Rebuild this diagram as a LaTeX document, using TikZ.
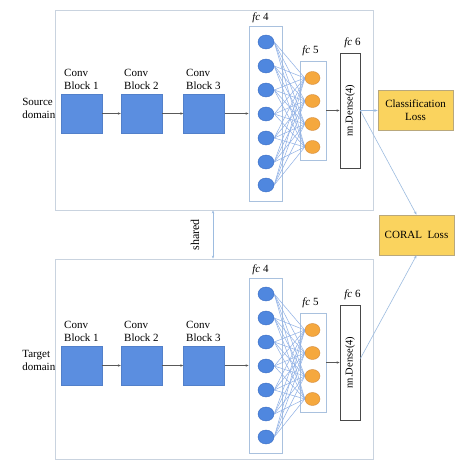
\documentclass[tikz,border=0pt]{standalone}
\usepackage{fontspec}
\setmainfont{Liberation Serif}
\usetikzlibrary{shapes.geometric,arrows.meta}
\definecolor{panelc}{HTML}{C9D3DF}
\definecolor{convc}{HTML}{5B8EE0}
\definecolor{layerc}{HTML}{A9C1DE}
\definecolor{bluen}{HTML}{4F87DF}
\definecolor{bluend}{HTML}{3A6CC2}
\definecolor{orangen}{HTML}{F5A83E}
\definecolor{orangend}{HTML}{D3893A}
\definecolor{connc}{HTML}{8FB0E6}
\definecolor{lossc}{HTML}{FAD35E}
\definecolor{lossd}{HTML}{B9A87C}
\definecolor{ltarrow}{HTML}{9DBCE0}
\begin{document}
\begin{tikzpicture}[x=1pt,y=-1pt,
  panel/.style={draw=panelc,line width=0.9pt,minimum width=318pt,minimum height=200pt,inner sep=0pt},
  conv/.style={fill=convc,draw=convc!90!black,line width=0.3pt,minimum width=41pt,minimum height=39pt,inner sep=0pt},
  layerbox/.style={draw=layerc,line width=0.8pt,inner sep=0pt},
  bneu/.style={ellipse,fill=bluen,draw=bluend,line width=0.4pt,minimum width=16pt,minimum height=14pt,inner sep=0pt},
  oneu/.style={ellipse,fill=orangen,draw=orangend,line width=0.4pt,minimum width=15pt,minimum height=13pt,inner sep=0pt},
  fcbox/.style={draw=black!72,line width=0.8pt,minimum width=20pt,minimum height=115pt,inner sep=0pt},
  conn/.style={draw=connc,line width=0.5pt},
  darr/.style={draw=black!65,line width=0.5pt,-{Stealth[length=3pt,width=2.4pt]}},
  larr/.style={draw=ltarrow,line width=0.6pt,-{Stealth[length=3.5pt,width=2.8pt]}},
  lossbox/.style={fill=lossc,draw=lossd,line width=0.6pt,minimum width=75pt,minimum height=40pt,align=center,inner sep=0pt,font=\fontsize{11}{13}\selectfont},
  txt/.style={font=\fontsize{11}{13}\selectfont,inner sep=0pt},
  fclab/.style={font=\fontsize{11}{13}\selectfont,inner sep=0pt}
]
\useasboundingbox[fill=white] (0,0) rectangle (474,474);

% panels
\node[panel] (sp) at (214,110) {};
\node[panel] (tp) at (214,359) {};

% shared
\draw[draw=ltarrow,line width=0.6pt,{Stealth[length=3pt,width=2.4pt]}-{Stealth[length=3pt,width=2.4pt]}] (sp.south -| 213,0) -- (tp.north -| 213,0);
\node[txt,rotate=90,font=\fontsize{12}{14}\selectfont] (sh) at (195,235) {shared};

% loss boxes
\node[lossbox] (cls) at (415.5,110.5) {Classification\\Loss};
\node[lossbox] (cor) at (416.5,235) {CORAL\ \ Loss};

\foreach \p/\dy/\dom in {s/0/Source, t/252/Target} {
\begin{scope}[yshift=-\dy pt]
  \node[txt,align=left,anchor=east] (\p dom) at (55.5,108) {\dom\\domain};
  % conv blocks
  \node[conv] (\p c1) at (81.5,113.5) {};
  \node[conv] (\p c2) at (141.5,113.5) {};
  \node[conv] (\p c3) at (204,113.5) {};
  \node[txt,align=left,anchor=south west] (\p l1) at (64,90) {Conv\\Block 1};
  \node[txt,align=left,anchor=south west] (\p l2) at (124,90) {Conv\\Block 2};
  \node[txt,align=left,anchor=south west] (\p l3) at (186,90) {Conv\\Block 3};
  % fc4
  \node[layerbox,minimum width=33pt,minimum height=175pt] (\p f4) at (265.5,113.5) {};
  \foreach \i/\yy in {1/42,2/66,3/90,4/114,5/138,6/162,7/185} {
    \node[bneu] (\p b\i) at (266,\yy) {};
  }
  % fc5
  \node[layerbox,minimum width=26pt,minimum height=99pt] (\p f5) at (313,110.5) {};
  \foreach \j/\yy in {1/78,2/101,3/124,4/147} {
    \node[oneu] (\p o\j) at (312.5,\yy) {};
  }
  \foreach \i in {1,...,7} {
    \foreach \j in {1,...,4} {
      \draw[conn] (\p b\i.east) -- (\p o\j.west);
    }
  }
  % fc6
  \node[fcbox] (\p f6) at (350,110.5) {};
  \node[rotate=90,inner sep=0pt,font=\fontsize{10.5}{11}\selectfont] (\p dn) at (350,110.5) {nn.Dense(4)};
  % labels
  \node[fclab] (\p lf4) at (260.5,18) {\textit{fc} 4};
  \node[fclab] (\p lf5) at (310.5,51) {\textit{fc} 5};
  \node[fclab] (\p lf6) at (352.5,43) {\textit{fc} 6};
  % arrows
  \draw[darr] (\p c1.east) -- (\p c2.west);
  \draw[darr] (\p c2.east) -- (\p c3.west);
  \draw[darr] (\p c3.east) -- (\p c3.east -| \p f4.west);
  \draw[darr] (\p f5.east) -- (\p f6.west);
\end{scope}
}

\draw[larr] (sf6.east) -- (cls.west);
\draw[larr] (sf6.east) -- (cor.north);
\draw[larr] ([yshift=4pt]tf6.east) -- (cor.south);
\end{tikzpicture}
\end{document}
